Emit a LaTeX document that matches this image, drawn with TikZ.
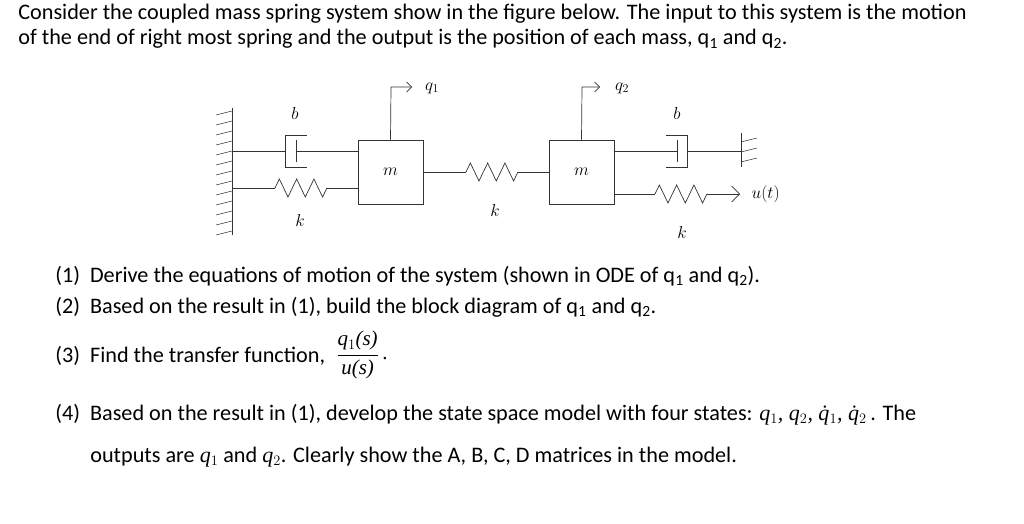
\documentclass[tikz,border=0pt]{standalone}
\usepackage{fontspec}
\setmainfont{Carlito}
\newfontfamily\tms{Liberation Serif}
\usetikzlibrary{decorations.pathmorphing,arrows.meta}
\begin{document}
\begin{tikzpicture}[x=1pt,y=-1pt,line width=0.7pt,
  ln/.style={draw=black!80},
  spr/.style={decorate,decoration={zigzag,segment length=17.3pt,amplitude=9pt}},
  txt/.style={anchor=base west,inner sep=0pt,font=\fontsize{22.2}{26}\selectfont},
  lab/.style={font=\fontsize{17}{20}\selectfont}]
\useasboundingbox (0,0) rectangle (1024,524);
\node[txt] (l1) at (18,20) {Consider the coupled mass spring system show in the figure below. The input to this system is the motion};
\node[txt] (l2) at (18,45) {of the end of right most spring and the output is the position of each mass, q\textsubscript{1} and q\textsubscript{2}.};
% wall left
\draw[ln] (232,108) -- (232,235);
\foreach \y in {111,121,...,235} \draw[ln,line width=0.5pt] (216,\y+4) -- (232,\y);
% masses
\node[draw=black!80,minimum width=65pt,minimum height=64pt,inner sep=0,lab] (m1) at (390.5,172) {$m$};
\node[draw=black!80,minimum width=65pt,minimum height=64pt,inner sep=0,lab] (m2) at (581.5,172) {$m$};
% damper 1
\coordinate (w1d) at (232,151);
\draw[ln] (w1d) -- (285,151);
\draw[ln] (307,135) -- (285,135) -- (285,167) -- (307,167);
\draw[ln] (296,140) -- (296,162);
\draw[ln] (296,151) -- (m1.west |- 0,151);
\node[lab] (b1) at (295,113) {$b$};
% spring 1
\draw[ln] (232,188) -- (275,188);
\draw[ln,spr] (275,188) -- (327,188);
\draw[ln] (327,188) -- (m1.west |- 0,188);
\node[lab] (k1) at (300,220) {$k$};
% spring 2
\draw[ln] (m1.east |- 0,172) -- (466,172);
\draw[ln,spr] (466,172) -- (518,172);
\draw[ln] (518,172) -- (m2.west |- 0,172);
\node[lab] (k2) at (495,210) {$k$};
% q arrows
\draw[ln,-{Straight Barb[length=5pt]}] (m1.north) -- (391,87) -- (412,87);
\node[lab] (q1) at (432,88) {$q_1$};
\draw[ln,-{Straight Barb[length=5pt]}] (m2.north) -- (582,87) -- (600,87);
\node[lab] (q2) at (622,88) {$q_2$};
% damper 2
\draw[ln] (m2.east |- 0,151) -- (677,151);
\draw[ln] (677,140) -- (677,162);
\draw[ln] (666,135) -- (687,135) -- (687,167) -- (666,167);
\draw[ln] (687,151) -- (741,151);
\draw[ln] (741,133) -- (741,167);
\foreach \y in {138,148,158} \draw[ln,line width=0.5pt] (741,\y+4) -- (757,\y);
\node[lab] (b2) at (677,113) {$b$};
% spring 3
\draw[ln] (m2.east |- 0,194) -- (655,194);
\draw[ln,spr] (655,194) -- (707,194);
\coordinate (ue) at (740,194);
\draw[ln,-{Straight Barb[length=8pt]}] (707,194) -- (ue);
\node[lab,anchor=west] (u) at (748,194) {$u(t)$};
\node[lab] (k3) at (682,232) {$k$};
% questions
\node[txt] (a1) at (55,282) {(1)\ \ Derive the equations of motion of the system (shown in ODE of q\textsubscript{1} and q\textsubscript{2}).};
\node[txt] (a2) at (55,313) {(2)\ \ Based on the result in (1), build the block diagram of q\textsubscript{1} and q\textsubscript{2}.};
\node[txt] (a3) at (55,362) {(3)\ \ Find the transfer function,};
\node[inner sep=0,font=\fontsize{21}{24}\selectfont\tms\itshape] (fr) at (362,355) {$\displaystyle\frac{\hbox{q$_1$(s)}}{\hbox{u(s)}}$\,\upshape.};
\node[txt] (a4) at (55,420) {(4)\ \ Based on the result in (1), develop the state space model with four states: {\tms\itshape\fontsize{22}{24}\selectfont q$_1$, q$_2$, \.q$_1$, \.q$_2$}\,. The};
\node[txt] (a5) at (90,462) {outputs are {\tms\itshape\fontsize{22}{24}\selectfont q$_1$} and {\tms\itshape\fontsize{22}{24}\selectfont q$_2$}. Clearly show the A, B, C, D matrices in the model.};
\end{tikzpicture}
\end{document}
